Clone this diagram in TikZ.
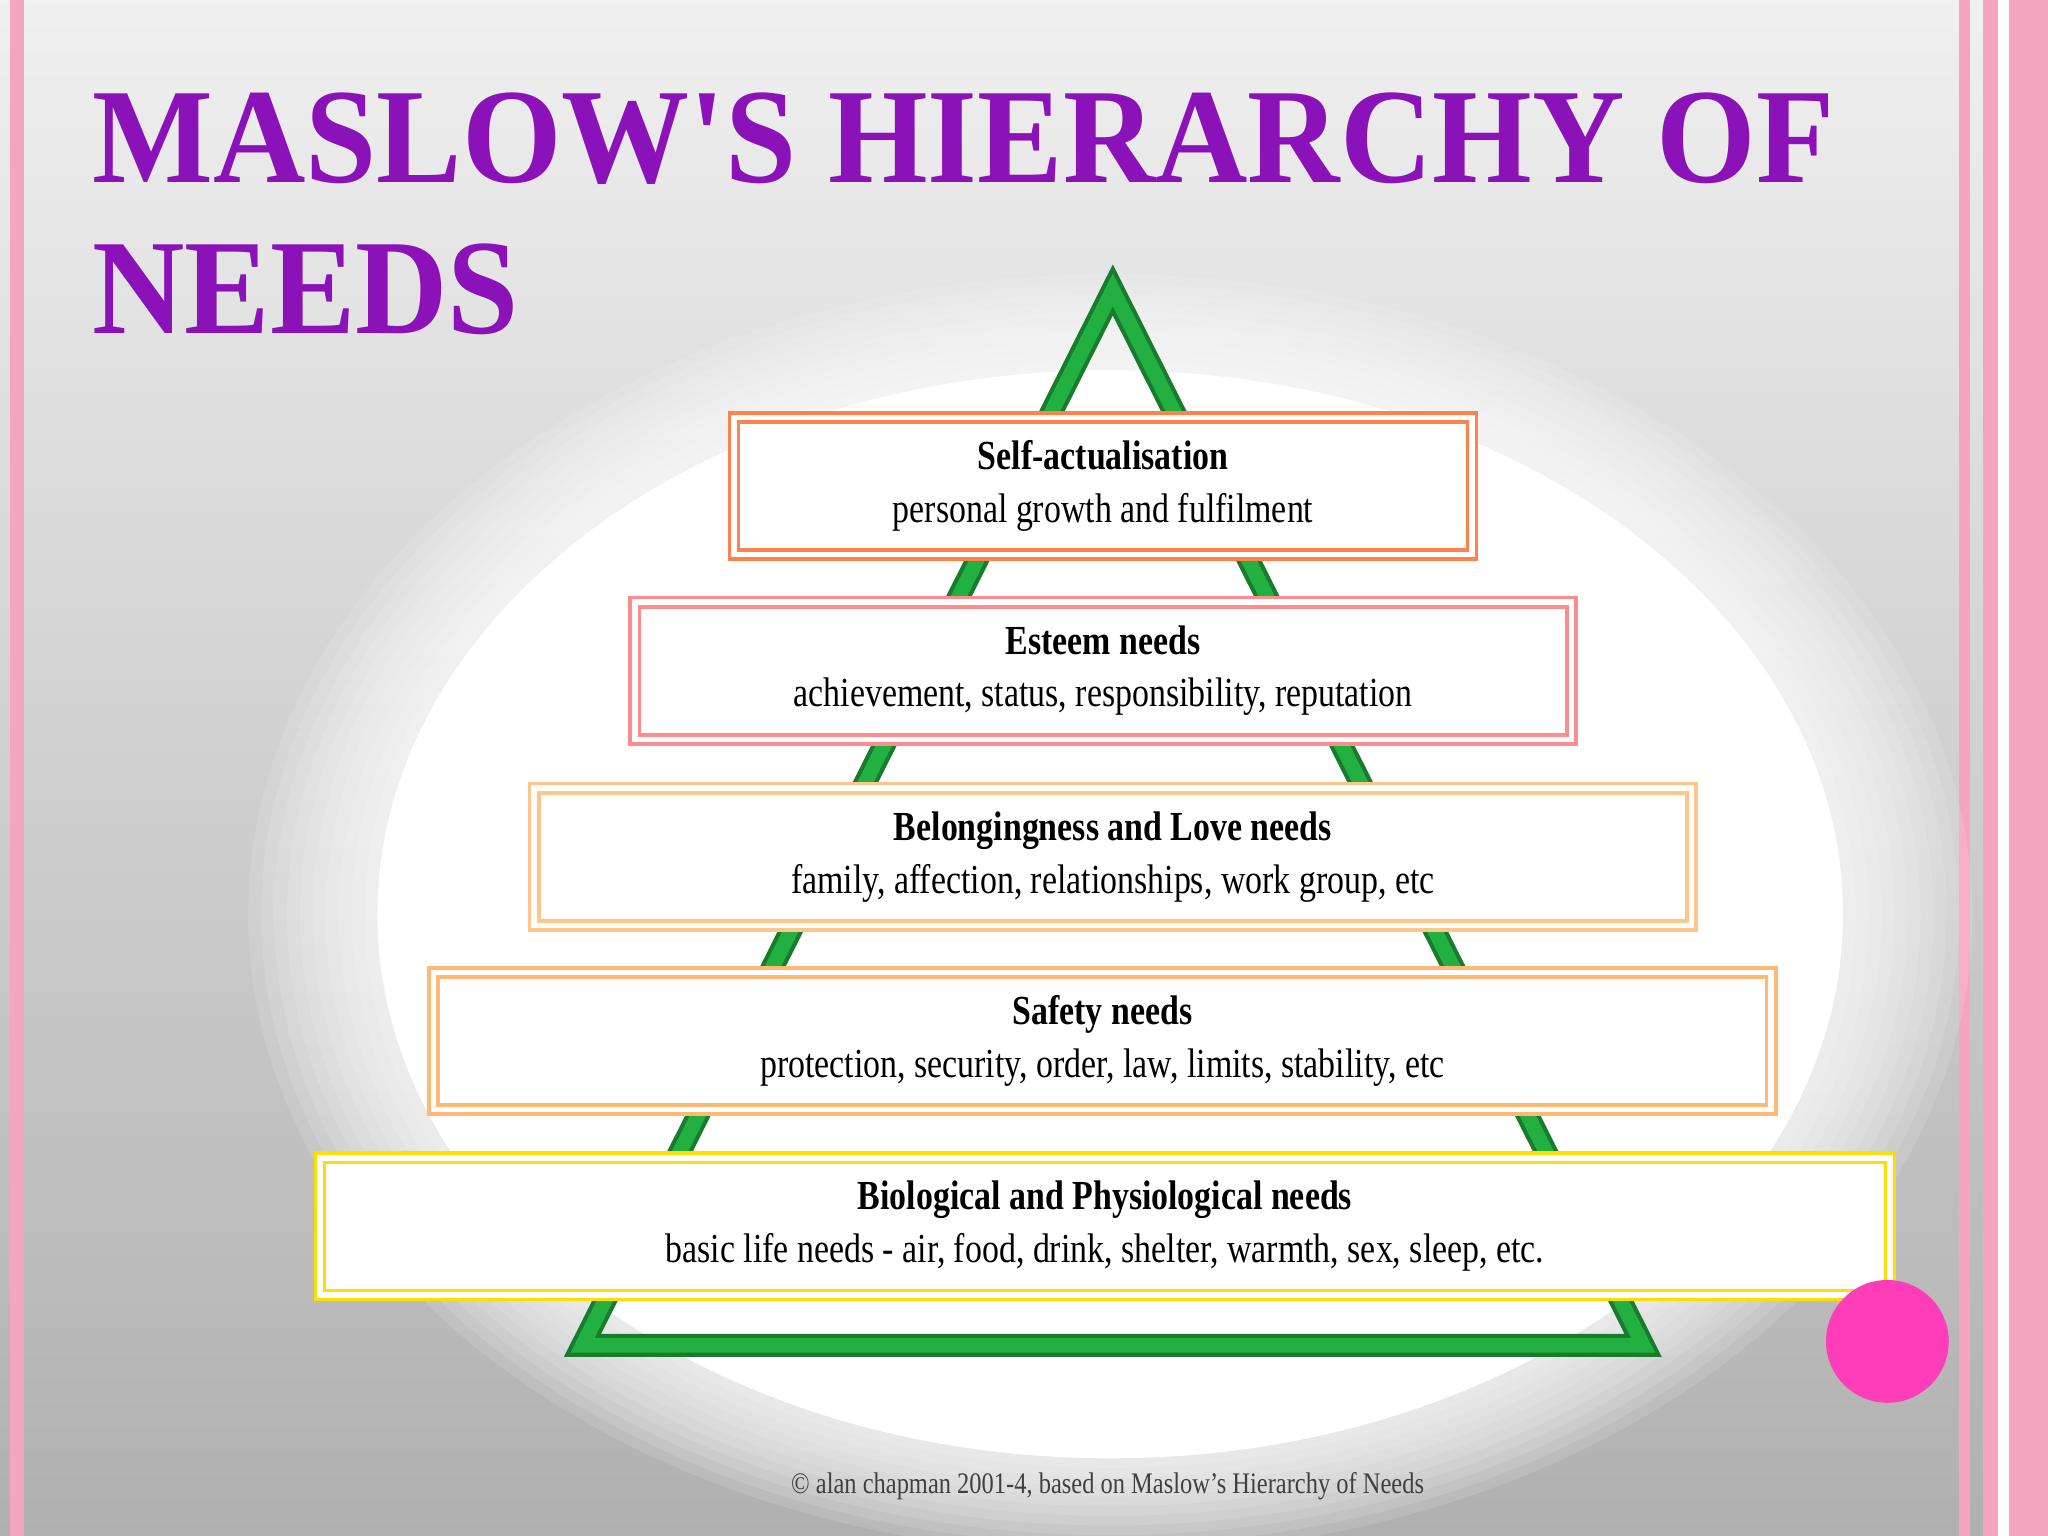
\documentclass[tikz,border=0pt]{standalone}
\usepackage{fontspec}
\setmainfont{Liberation Serif}
\usetikzlibrary{positioning}
\definecolor{ttl}{HTML}{8A12B8}
\definecolor{grn}{HTML}{22B040}
\definecolor{pinkbar}{HTML}{F4A6C0}
\newcommand{\sqz}[1]{\scalebox{0.82}[1]{#1}}
\tikzset{
  level/.style={draw=#1,double=white,double distance=1.2pt,line width=0.8pt,fill=white,
    minimum height=1.05cm,align=center,font=\fontsize{9}{11.5}\selectfont},
  head/.style={font=\fontsize{29.5}{30}\selectfont\bfseries,text=ttl,anchor=base west,inner sep=0pt}
}
\begin{document}
\begin{tikzpicture}[y=-1cm]
  \useasboundingbox (0,0) rectangle (15.68,11.76);
  % background
  \shade[top color=gray!12,bottom color=gray!62] (0,0) rectangle (15.68,11.76);
  \fill[pinkbar] (0.08,0) rectangle (0.18,11.76);
  \fill[pinkbar] (15.0,0) rectangle (15.08,11.76);
  \fill[pinkbar] (15.18,0) rectangle (15.68,11.76);
  \fill[white] (15.3,0) rectangle (15.38,11.76);
  % white oval
  \foreach \r in {1.0,0.985,...,0.86}
    \fill[white,opacity=0.12] (8.5,7.0) ellipse ({6.6*\r} and {4.9*\r});
  \fill[white] (8.5,7.0) ellipse ({6.6*0.85} and {4.9*0.85});
  % title
  \node[head] (t1) at (0.7,1.4) {\scalebox{0.945}[1]{MASLOW\textquotesingle S HIERARCHY OF}};
  \node[head] (t2) at (0.7,2.55) {\scalebox{0.945}[1]{NEEDS}};
  % pyramid
  \draw[grn!70!black,line width=5pt,line join=miter] (8.52,2.22) -- (12.58,10.3) -- (4.46,10.3) -- cycle;
  \draw[grn,line width=3.2pt,line join=miter] (8.52,2.22) -- (12.58,10.3) -- (4.46,10.3) -- cycle;
  % levels
  \node[level={orange!60!red!70},minimum width=5.65cm] (self) at (8.445,3.72)
    {\sqz{\textbf{Self-actualisation}}\\\sqz{personal growth and fulfilment}};
  \node[level={red!45},minimum width=7.17cm] (esteem) at (8.445,5.135)
    {\sqz{\textbf{Esteem needs}}\\\sqz{achievement, status, responsibility, reputation}};
  \node[level={orange!45},minimum width=8.86cm] (love) at (8.52,6.56)
    {\sqz{\textbf{Belongingness and Love needs}}\\\sqz{family, affection, relationships, work group, etc}};
  \node[level={orange!55},minimum width=10.24cm] (safety) at (8.44,7.97)
    {\sqz{\textbf{Safety needs}}\\\sqz{protection, security, order, law, limits, stability, etc}};
  \node[level={yellow!80!orange},minimum width=12.02cm] (bio) at (8.46,9.39)
    {\sqz{\textbf{Biological and Physiological needs}}\\\sqz{basic life needs - air, food, drink, shelter, warmth, sex, sleep, etc.}};
  % footer
  \node[font=\fontsize{6.5}{7}\selectfont,text=black!75] (credit) at (8.48,11.38)
    {\sqz{\textcopyright\ alan chapman 2001-4, based on Maslow's Hierarchy of Needs}};
  \fill[pink!40!magenta!80!red] (14.45,10.27) circle (0.47);
\end{tikzpicture}
\end{document}
